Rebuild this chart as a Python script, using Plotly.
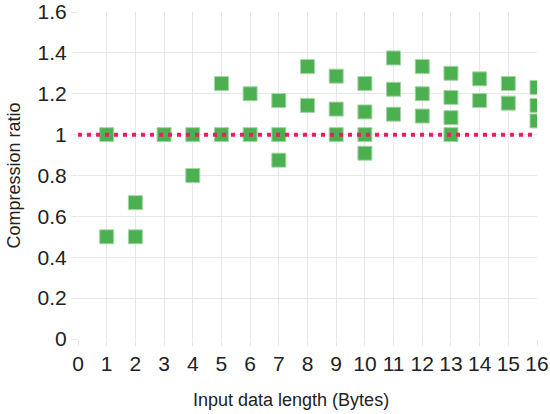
import plotly.graph_objects as go

lengths = [1, 1, 2, 2, 3, 4, 4, 5, 5, 6, 6, 7, 7, 7, 8, 8, 9, 9, 9,
           10, 10, 10, 10, 11, 11, 11, 12, 12, 12, 13, 13, 13, 13,
           14, 14, 15, 15, 16, 16, 16]
ratios = [1.0, 0.5, 0.667, 0.5, 1.0, 1.0, 0.8, 1.25, 1.0, 1.2, 1.0,
          1.167, 1.0, 0.875, 1.333, 1.143, 1.286, 1.125, 1.0,
          1.25, 1.111, 1.0, 0.909, 1.375, 1.222, 1.1, 1.333, 1.2, 1.091,
          1.3, 1.182, 1.083, 1.0, 1.273, 1.167, 1.25, 1.154,
          1.231, 1.143, 1.067]
baseline_x = [0, 16]
baseline_y = [1, 1]

fig = go.Figure()
fig.add_trace(go.Scatter(
    x=lengths, y=ratios, mode="markers",
    marker=dict(symbol="square", size=14, color="#4caf50",
                line=dict(color="#a5d6a7", width=1)),
    showlegend=False))
fig.add_trace(go.Scatter(
    x=baseline_x, y=baseline_y, mode="lines",
    line=dict(color="#e91e63", width=4, dash="4px,5px"),
    showlegend=False))

fig.update_layout(
    width=550, height=414,
    margin=dict(l=78, r=13, t=12, b=75),
    paper_bgcolor="white", plot_bgcolor="white",
    font=dict(family="Liberation Sans, Arial, sans-serif", size=21, color="#222"),
    xaxis=dict(range=[0, 16], dtick=1, tick0=0, showgrid=True,
               gridcolor="#e8e8e8", gridwidth=1, zeroline=False,
               ticks="outside", ticklen=6, tickcolor="#e8e8e8",
               automargin=False, showline=False),
    yaxis=dict(range=[0, 1.6], dtick=0.2, tick0=0, showgrid=True,
               gridcolor="#e8e8e8", gridwidth=1, zeroline=False,
               ticks="outside", ticklen=6, tickcolor="#e8e8e8",
               title=dict(text="Compression ratio", font=dict(size=18), standoff=12),
               automargin=False, showline=False),
    annotations=[dict(text="Input data length (Bytes)", xref="paper", yref="paper",
                      x=0.464, y=-0.1865, xanchor="center", yanchor="middle",
                      showarrow=False, font=dict(size=18, color="#222"))],
)

fig.write_html("out.html",
               config={"displayModeBar": False},
               post_script="document.body.style.margin='0';document.body.style.overflow='hidden';")
